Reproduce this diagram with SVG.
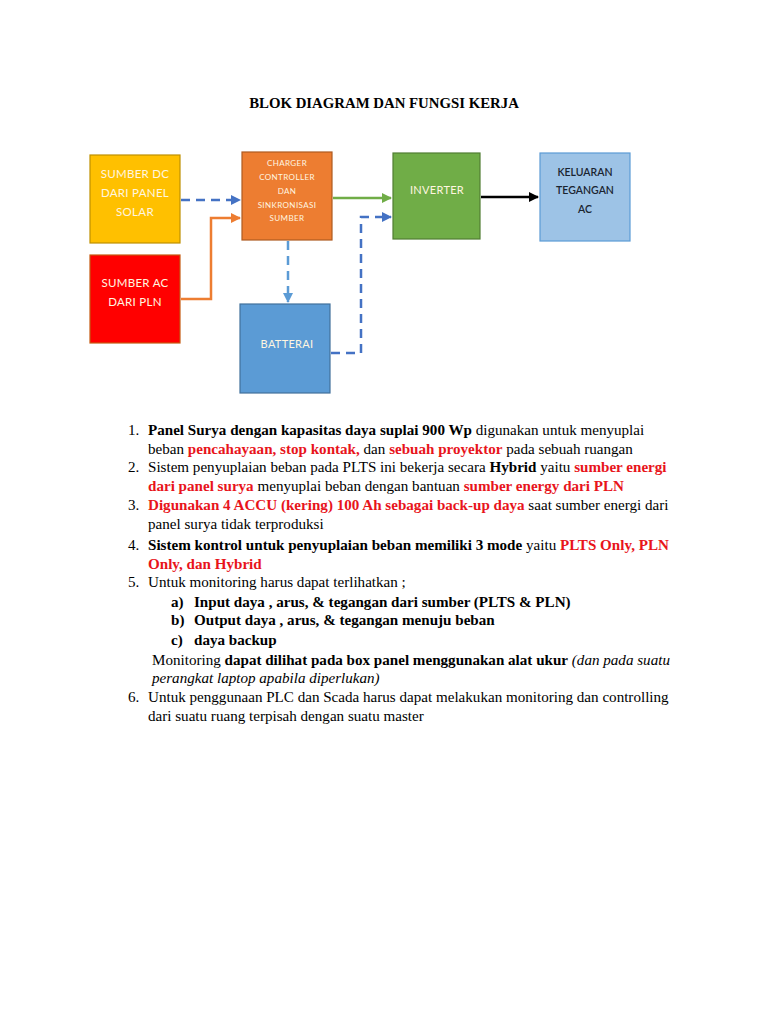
<svg xmlns="http://www.w3.org/2000/svg" width="768" height="1024" viewBox="0 0 768 1024">
<defs>
<style>
.box{stroke-width:1.2}
.bt{font-family:Lato,"Open Sans","Liberation Sans",sans-serif;text-anchor:middle;fill:#FFF6E0}
.t{font-family:"Liberation Serif","Times New Roman",serif;font-size:15.1px;fill:#000}
.b{font-weight:bold}
.r{fill:#E8141B;font-weight:bold}
.i{font-style:italic}
</style>
<marker id="ab" viewBox="0 0 10 10" refX="9" refY="5" markerWidth="4" markerHeight="4" orient="auto"><path d="M0,0 L10,5 L0,10 z" fill="#4472C4"/></marker>
<marker id="ao" viewBox="0 0 10 10" refX="9" refY="5" markerWidth="4" markerHeight="4" orient="auto"><path d="M0,0 L10,5 L0,10 z" fill="#ED7D31"/></marker>
<marker id="ag" viewBox="0 0 10 10" refX="9" refY="5" markerWidth="4" markerHeight="4" orient="auto"><path d="M0,0 L10,5 L0,10 z" fill="#70AD47"/></marker>
<marker id="ak" viewBox="0 0 10 10" refX="9" refY="5" markerWidth="4" markerHeight="4" orient="auto"><path d="M0,0 L10,5 L0,10 z" fill="#000"/></marker>
<marker id="al" viewBox="0 0 10 10" refX="9" refY="5" markerWidth="4" markerHeight="4" orient="auto"><path d="M0,0 L10,5 L0,10 z" fill="#5B9BD5"/></marker>
</defs>
<rect width="768" height="1024" fill="#fff"/>
<text x="384" y="108" text-anchor="middle" class="t b" style="font-size:14.8px">BLOK DIAGRAM DAN FUNGSI KERJA</text>

<g id="connectors" fill="none">
<path d="M181,200 H240" stroke="#4472C4" stroke-width="2.5" stroke-dasharray="9,6" marker-end="url(#ab)"/>
<path d="M181,299 H211 V218 H240" stroke="#ED7D31" stroke-width="2.5" marker-end="url(#ao)"/>
<path d="M333,198 H391" stroke="#70AD47" stroke-width="2.5" marker-end="url(#ag)"/>
<path d="M481,197 H538" stroke="#000" stroke-width="2.5" marker-end="url(#ak)"/>
<path d="M288,241 V302" stroke="#5B9BD5" stroke-width="2.5" stroke-dasharray="9,6" marker-end="url(#al)"/>
<path d="M331,353 H361 V217 H391" stroke="#4472C4" stroke-width="2.5" stroke-dasharray="9,6" marker-end="url(#ab)"/>
</g>

<g id="sumber-dc">
<rect class="box" x="90" y="155" width="90" height="88" fill="#FFC000" stroke="#BF9000"/>
<text class="bt" font-size="11.5" letter-spacing="0.3"><tspan x="135" y="178">SUMBER DC</tspan><tspan x="135" y="197">DARI PANEL</tspan><tspan x="135" y="216">SOLAR</tspan></text>
</g>
<g id="sumber-ac">
<rect class="box" x="90" y="255" width="90" height="88" fill="#FF0000" stroke="#C55A11"/>
<text class="bt" font-size="11.5" letter-spacing="0.3"><tspan x="135" y="287">SUMBER AC</tspan><tspan x="135" y="306">DARI PLN</tspan></text>
</g>
<g id="charger">
<rect class="box" x="242" y="152" width="90" height="88" fill="#ED7D31" stroke="#AE5A21"/>
<text class="bt" font-size="8" letter-spacing="0.4"><tspan x="287" y="166">CHARGER</tspan><tspan x="287" y="180">CONTROLLER</tspan><tspan x="287" y="194">DAN</tspan><tspan x="287" y="208">SINKRONISASI</tspan><tspan x="287" y="221">SUMBER</tspan></text>
</g>
<g id="inverter">
<rect class="box" x="393" y="153" width="87" height="86" fill="#70AD47" stroke="#507E32"/>
<text class="bt" font-size="11" letter-spacing="0.3" x="437" y="194">INVERTER</text>
</g>
<g id="keluaran">
<rect class="box" x="540" y="153" width="90" height="88" fill="#9DC3E6" stroke="#5B9BD5"/>
<text class="bt" font-size="10.5" style="fill:#1A2430;font-weight:600"><tspan x="585" y="176">KELUARAN</tspan><tspan x="585" y="194">TEGANGAN</tspan><tspan x="585" y="213">AC</tspan></text>
</g>
<g id="batterai">
<rect class="box" x="240" y="304" width="90" height="89" fill="#5B9BD5" stroke="#41719C"/>
<text class="bt" font-size="11" letter-spacing="0.3" x="287" y="348">BATTERAI</text>
</g>

<g id="list">
<text class="t" x="128" y="435">1.</text>
<text class="t" x="148" y="435"><tspan class="b">Panel Surya dengan kapasitas daya suplai 900 Wp</tspan> digunakan untuk menyuplai</text>
<text class="t" x="148" y="454">beban <tspan class="r">pencahayaan, stop kontak,</tspan> dan <tspan class="r">sebuah proyektor</tspan> pada sebuah ruangan</text>
<text class="t" x="128" y="472">2.</text>
<text class="t" x="148" y="472">Sistem penyuplaian beban pada PLTS ini bekerja secara <tspan class="b">Hybrid</tspan> yaitu <tspan class="r">sumber energi</tspan></text>
<text class="t" x="148" y="491"><tspan class="r">dari panel surya</tspan> menyuplai beban dengan bantuan <tspan class="r">sumber energy dari PLN</tspan></text>
<text class="t" x="128" y="510">3.</text>
<text class="t" x="148" y="510"><tspan class="r">Digunakan 4 ACCU (kering) 100 Ah sebagai back-up daya</tspan> saat sumber energi dari</text>
<text class="t" x="148" y="529">panel surya tidak terproduksi</text>
<text class="t" x="128" y="550">4.</text>
<text class="t" x="148" y="550"><tspan class="b">Sistem kontrol untuk penyuplaian beban memiliki 3 mode</tspan> yaitu <tspan class="r">PLTS Only, PLN</tspan></text>
<text class="t" x="148" y="569"><tspan class="r">Only, dan Hybrid</tspan></text>
<text class="t" x="128" y="587">5.</text>
<text class="t" x="148" y="587">Untuk monitoring harus dapat terlihatkan ;</text>
<text class="t b" x="171" y="607">a)</text>
<text class="t b" x="194" y="607">Input daya , arus, &amp; tegangan dari sumber (PLTS &amp; PLN)</text>
<text class="t b" x="171" y="625">b)</text>
<text class="t b" x="194" y="625">Output daya , arus, &amp; tegangan menuju beban</text>
<text class="t b" x="171" y="645">c)</text>
<text class="t b" x="194" y="645">daya backup</text>
<text class="t" x="152" y="665">Monitoring <tspan class="b">dapat dilihat pada box panel menggunakan alat ukur</tspan> <tspan class="i">(dan pada suatu</tspan></text>
<text class="t i" x="152" y="683">perangkat laptop apabila diperlukan)</text>
<text class="t" x="128" y="702">6.</text>
<text class="t" x="148" y="702">Untuk penggunaan PLC dan Scada harus dapat melakukan monitoring dan controlling</text>
<text class="t" x="148" y="721">dari suatu ruang terpisah dengan suatu master</text>
</g>
</svg>
